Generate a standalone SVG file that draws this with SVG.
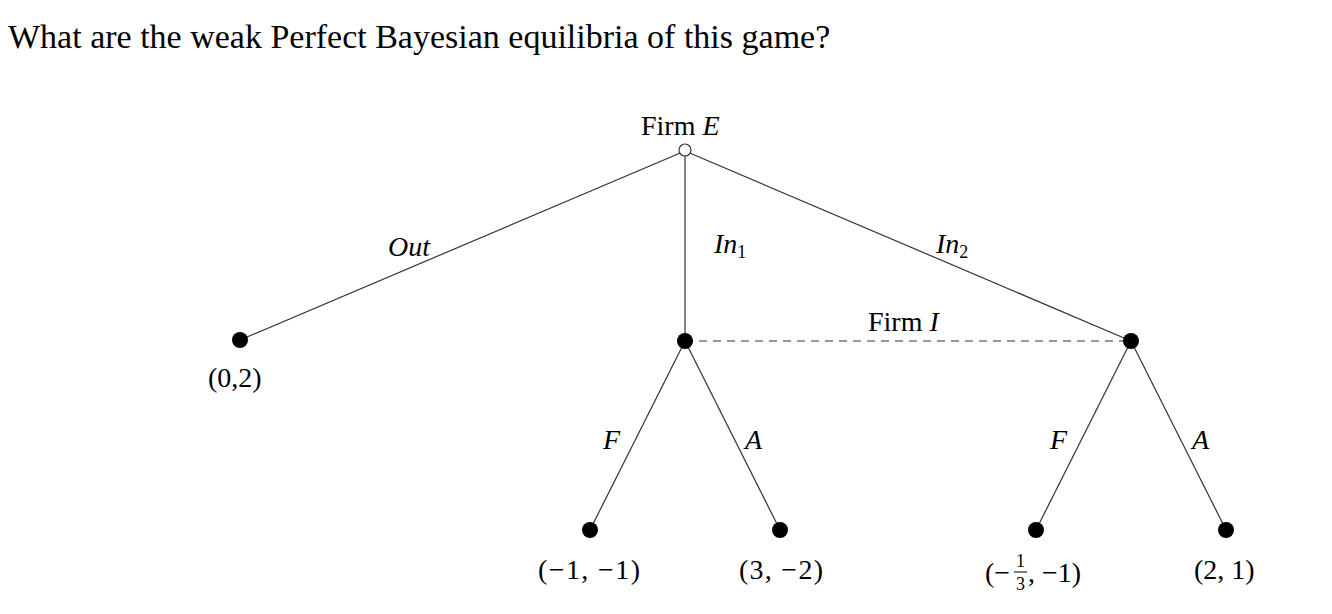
<svg xmlns="http://www.w3.org/2000/svg" width="1332" height="614" viewBox="0 0 1332 614">
<style>
text{font-family:"Liberation Serif","Times New Roman",serif;fill:#000}
.l{font-size:28px;font-style:italic}
.p{font-size:28px}
.s{font-size:18px}
.e{stroke:#333;stroke-width:1.2;fill:none}
.n{fill:#000}
</style>
<rect width="1332" height="614" fill="#fff"/>
<text x="8" y="48" style="font-size:34px">What are the weak Perfect Bayesian equilibria of this game?</text>
<g id="connectors">
<line class="e" x1="685" y1="151" x2="240" y2="340"/>
<line class="e" x1="685" y1="151" x2="685" y2="341"/>
<line class="e" x1="685" y1="151" x2="1131" y2="341"/>
<line class="e" x1="685" y1="341" x2="590" y2="530"/>
<line class="e" x1="685" y1="341" x2="780" y2="530"/>
<line class="e" x1="1131" y1="341" x2="1036" y2="530"/>
<line class="e" x1="1131" y1="341" x2="1226" y2="530"/>
<line class="e" x1="685" y1="341" x2="1131" y2="341" stroke-dasharray="8,6"/>
<text class="l" x="388" y="256">Out</text>
<text class="l" x="714" y="253">In<tspan class="s" font-style="normal" dy="5">1</tspan></text>
<text class="l" x="936" y="253">In<tspan class="s" font-style="normal" dy="5">2</tspan></text>
<text class="p" x="868" y="331">Firm <tspan font-style="italic">I</tspan></text>
<text class="l" x="603" y="449">F</text>
<text class="l" x="745" y="449">A</text>
<text class="l" x="1050" y="449">F</text>
<text class="l" x="1192" y="449">A</text>
</g>
<g id="root"><circle cx="685" cy="150" r="6" fill="#fff" stroke="#333" stroke-width="1.2"/><text class="p" x="641" y="135">Firm <tspan font-style="italic">E</tspan></text></g>
<g id="out"><circle class="n" cx="240" cy="340" r="8"/><text class="p" x="208" y="387">(0,2)</text></g>
<g id="i1"><circle class="n" cx="685" cy="341" r="8"/></g>
<g id="i2"><circle class="n" cx="1131" cy="341" r="8"/></g>
<g id="t1"><circle class="n" cx="590" cy="530" r="8"/><text class="p" x="538" y="579" textLength="102">(−1, −1)</text></g>
<g id="t2"><circle class="n" cx="780" cy="530" r="8"/><text class="p" x="739" y="579" textLength="84">(3, −2)</text></g>
<g id="t3"><circle class="n" cx="1036" cy="530" r="8"/>
<text class="p" x="985" y="582">(−</text>
<text class="s" x="1016" y="567">1</text>
<line x1="1014" y1="572" x2="1027" y2="572" stroke="#000" stroke-width="1"/>
<text class="s" x="1016" y="590">3</text>
<text class="p" x="1028" y="582">, −1)</text></g>
<g id="t4"><circle class="n" cx="1226" cy="530" r="8"/><text class="p" x="1194" y="579">(2, 1)</text></g>
</svg>
